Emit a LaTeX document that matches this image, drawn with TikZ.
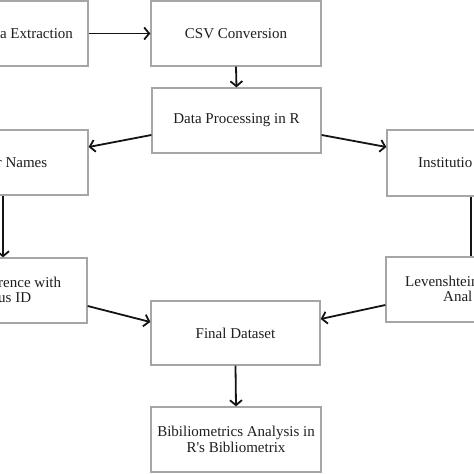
\documentclass[tikz,border=0pt]{standalone}
\usepackage{fontspec}
\setmainfont{Liberation Serif}[Ligatures=TeXOff]
\usetikzlibrary{arrows.meta}
\definecolor{boxgray}{HTML}{A6A6A6}
\definecolor{textcol}{HTML}{1E1E1E}
\definecolor{arrcol}{HTML}{141414}
\newcommand{\fs}{\fontsize{15}{15.5}\selectfont}
\begin{document}
\begin{tikzpicture}[x=1pt,y=-1pt,
  box/.style={draw=boxgray, line width=1.3pt, minimum height=65pt, inner sep=0pt, text=textcol, font=\fs, align=center},
  lbl/.style={inner sep=0pt, text=textcol, font=\fs, align=left},
  arr/.style={draw=arrcol, line width=1.8pt, -{Straight Barb[length=5pt,width=12pt]}},
  plain/.style={draw=arrcol, line width=1.8pt}]
\useasboundingbox (0,0) rectangle (474,474);
\clip (0,0) rectangle (474,474);
% boxes
\node[box, minimum width=103pt] (ext) at (36.5,33.5) {a Extraction};
\node[box, minimum width=170pt] (csv) at (236,33.5) {CSV Conversion};
\node[box, minimum width=169pt] (proc) at (236.5,120.5) {Data Processing in R};
\node[box, minimum width=132pt] (author) at (22,162.5) {r Names};
\node[box, minimum width=213pt, minimum height=66pt] (inst) at (493.5,163) {};
\node[lbl, anchor=west] (instT) at (418,163) {Institutio};
\node[box, minimum width=137pt] (coh) at (18.5,290.5) {};
\node[lbl, anchor=west] (cohT) at (-2,290) {rence with\\us ID};
\node[box, minimum width=214pt] (lev) at (493,289.5) {};
\node[lbl, anchor=west] (levT) at (405,289) {Levenshtein\\\hspace*{38pt}Anal};
\node[box, minimum width=169pt, minimum height=64pt] (final) at (235.5,333) {Final Dataset};
\node[box, minimum width=170pt] (bib) at (236,439.5) {Bibiliometrics Analysis in\\R's Bibliometrix};
% connectors
\coordinate (xl) at (3,0);
\coordinate (xr) at (471,0);
\draw[arr] (ext.east) -- (csv.west);
\draw[arr] (csv.south) -- (proc.north);
\draw[arr] ([yshift=-14.5pt]proc.west) -- ([yshift=15.5pt]author.east);
\draw[arr] ([yshift=-14.5pt]proc.east) -- ([yshift=16pt]inst.west);
\draw[arr] (author.south -| xl) -- (coh.north -| xl);
\draw[plain] (inst.south -| xr) -- (lev.north -| xr);
\draw[arr] ([yshift=-15.5pt]coh.east) -- ([yshift=11pt]final.west);
\draw[arr] ([yshift=-15.5pt]lev.west) -- ([yshift=14pt]final.east);
\draw[arr] (final.south) -- (bib.north);
\end{tikzpicture}
\end{document}
